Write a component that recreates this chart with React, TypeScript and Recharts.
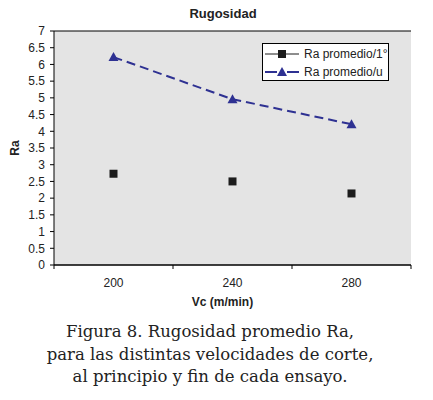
import React from 'react';
import { ComposedChart, Line, XAxis, YAxis, CartesianGrid, Legend } from 'recharts';

const vc = [200, 240, 280];
const raInicio = [2.73, 2.5, 2.14];
const raFin = [6.22, 4.96, 4.21];
const xTicks = [180, 200, 220, 240, 260, 280, 300];
const xBoundaries = [180, 220, 260, 300];
const yTicks = [0, 0.5, 1, 1.5, 2, 2.5, 3, 3.5, 4, 4.5, 5, 5.5, 6, 6.5, 7];
const seriesNames = ['Ra promedio/1°', 'Ra promedio/u'];
const captionLines = [
  'Figura 8. Rugosidad promedio Ra,',
  'para las distintas velocidades de corte,',
  'al principio y fin de cada ensayo.',
];

const data = vc.map((v, i) => ({ vc: v, ini: raInicio[i], fin: raFin[i] }));

const BLACK = '#1c1c1c';
const NAVY = '#2e3192';
const SANS = '"Liberation Sans", Arial, sans-serif';

const SquareDot = (props: any) => {
  const { cx, cy, index } = props;
  if (cx == null || cy == null) return <g key={index} />;
  return <rect key={index} x={cx - 4} y={cy - 4} width={8} height={8} fill={BLACK} />;
};

const TriangleDot = (props: any) => {
  const { cx, cy, index } = props;
  if (cx == null || cy == null) return <g key={index} />;
  return (
    <polygon
      key={index}
      points={`${cx},${cy - 5} ${cx + 5},${cy + 4} ${cx - 5},${cy + 4}`}
      fill={NAVY}
    />
  );
};

const XTick = (props: any) => {
  const { x, y, payload } = props;
  const v = payload.value;
  if (xBoundaries.includes(v)) {
    return <line x1={x} x2={x} y1={y} y2={y + 4} stroke="#000" strokeWidth={1} />;
  }
  return (
    <text x={x} y={y + 22} textAnchor="middle" fontSize={12} fill="#222" fontFamily={SANS}>
      {v}
    </text>
  );
};

const LegendBox = () => (
  <div
    style={{
      boxSizing: 'border-box',
      width: 127,
      height: 38,
      background: '#fff',
      border: '1px solid #000',
      padding: '1px 2px',
      fontFamily: SANS,
      fontSize: 12,
      color: '#222',
    }}
  >
    {seriesNames.map((name, i) => (
      <div key={name} style={{ display: 'flex', alignItems: 'center', height: 18 }}>
        <svg width={34} height={12} style={{ marginRight: 5, flex: 'none' }}>
          {i === 0 ? (
            <>
              <line x1={0} x2={34} y1={6} y2={6} stroke={BLACK} strokeWidth={1} />
              <rect x={13} y={2} width={8} height={8} fill={BLACK} />
            </>
          ) : (
            <>
              <line x1={0} x2={12} y1={6} y2={6} stroke={NAVY} strokeWidth={2} />
              <line x1={22} x2={34} y1={6} y2={6} stroke={NAVY} strokeWidth={2} />
              <polygon points="17,1 22,10 12,10" fill={NAVY} />
            </>
          )}
        </svg>
        <span style={{ whiteSpace: 'nowrap' }}>{name}</span>
      </div>
    ))}
  </div>
);

export default function App() {
  return (
    <div
      style={{
        position: 'absolute',
        left: 0,
        top: 0,
        width: 433,
        height: 400,
        background: '#fff',
        fontFamily: SANS,
      }}
    >
      <div
        style={{
          position: 'absolute',
          left: 123,
          top: 6,
          width: 200,
          textAlign: 'center',
          fontWeight: 'bold',
          fontSize: 13,
          color: '#222',
        }}
      >
        Rugosidad
      </div>
      <div style={{ position: 'absolute', left: 0, top: 0 }}>
        <ComposedChart
          width={433}
          height={320}
          data={data}
          margin={{ top: 31, right: 22, left: 10, bottom: 10 }}
        >
          <CartesianGrid
            vertical={false}
            stroke="#000"
            strokeWidth={1}
            fill="#e4e4e4"
            fillOpacity={1}
          />
          <XAxis
            dataKey="vc"
            type="number"
            domain={[180, 300]}
            ticks={xTicks}
            interval={0}
            tick={<XTick />}
            tickLine={false}
            tickSize={0}
            tickMargin={0}
            axisLine={{ stroke: '#000' }}
            height={45}
            label={{
              value: 'Vc (m/min)',
              position: 'insideBottom',
              offset: 4,
              dx: -10,
              style: { fontWeight: 'bold', fontSize: 12, fill: '#222', fontFamily: SANS },
            }}
          />
          <YAxis
            yAxisId="left"
            domain={[0, 7]}
            ticks={yTicks}
            interval={0}
            width={44}
            tickSize={4}
            tickMargin={5}
            tickLine={{ stroke: '#000' }}
            axisLine={{ stroke: '#000' }}
            tick={{ fontSize: 12, fill: '#222', fontFamily: SANS }}
            label={{
              value: 'Ra',
              angle: -90,
              position: 'insideLeft',
              offset: 5,
              style: { textAnchor: 'middle', fontWeight: 'bold', fontSize: 12, fill: '#222', fontFamily: SANS },
            }}
          />
          <YAxis
            yAxisId="right"
            orientation="right"
            domain={[0, 7]}
            width={0}
            tick={false}
            tickLine={false}
            axisLine={{ stroke: '#000' }}
          />
          <Legend
            layout="vertical"
            align="center"
            verticalAlign="middle"
            content={<LegendBox />}
            wrapperStyle={{ position: 'absolute', left: 262, top: 43, width: 127, height: 38 }}
          />
          <Line
            yAxisId="left"
            dataKey="ini"
            name={seriesNames[0]}
            stroke="none"
            dot={SquareDot}
            activeDot={false}
            isAnimationActive={false}
          />
          <Line
            yAxisId="left"
            dataKey="fin"
            name={seriesNames[1]}
            stroke={NAVY}
            strokeWidth={2}
            strokeDasharray="9 5"
            dot={TriangleDot}
            activeDot={false}
            isAnimationActive={false}
          />
        </ComposedChart>
      </div>
      <div
        style={{
          position: 'absolute',
          left: 0,
          top: 321,
          width: 420,
          textAlign: 'center',
          fontFamily: '"DejaVu Serif", "Liberation Serif", serif',
          fontSize: 16.5,
          lineHeight: '22.5px',
          color: '#222',
        }}
      >
        {captionLines.map((l) => (
          <div key={l}>{l}</div>
        ))}
      </div>
    </div>
  );
}
